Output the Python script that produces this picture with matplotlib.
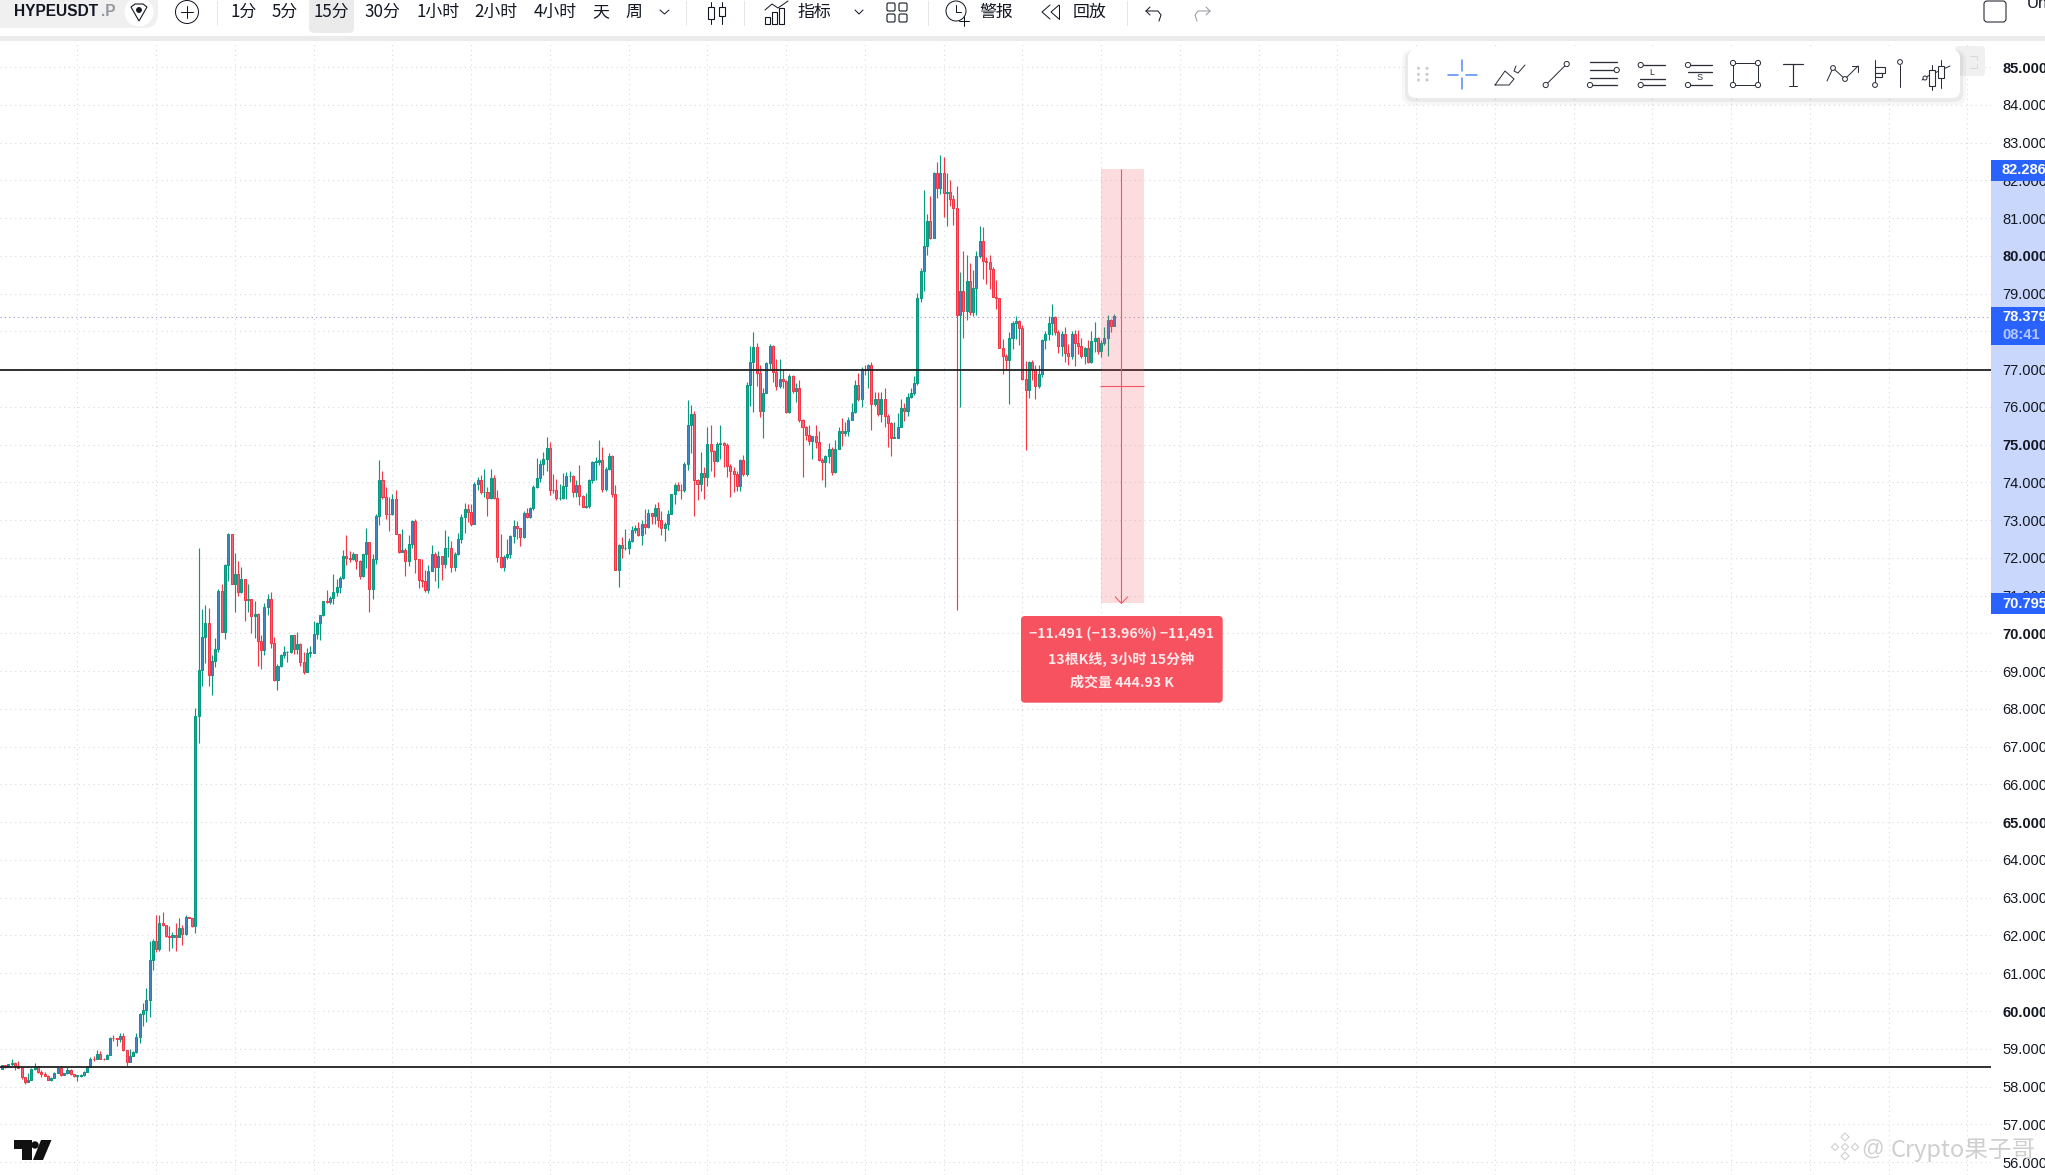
import matplotlib
matplotlib.use("Agg")
import matplotlib.pyplot as plt
from matplotlib.patches import Rectangle, FancyBboxPatch, Circle, Polygon

CJK = ['Noto Sans CJK SC', 'DejaVu Sans']
plt.rcParams['font.family'] = CJK

# ---------- data ----------
first_open = 58.47
closes = [
58.57,58.52,58.59,58.63,58.54,58.50,58.24,58.13,58.17,58.47,
58.54,58.38,58.34,58.28,58.17,58.22,58.35,58.50,58.30,58.35,
58.45,58.32,58.28,58.29,58.31,58.39,58.53,58.74,58.72,58.87,
58.74,58.72,58.84,59.29,59.28,59.25,59.33,58.96,58.65,58.81,
58.92,59.32,59.91,60.03,60.30,61.34,61.86,61.63,62.33,62.27,
61.98,61.97,62.01,61.96,62.20,62.03,62.49,62.46,62.24,67.82,
69.04,69.90,70.27,68.91,69.27,69.58,71.11,70.05,71.81,72.62,
71.32,71.57,71.10,71.43,70.88,70.90,70.45,70.52,69.79,69.55,
70.69,70.90,69.74,68.76,69.13,69.42,69.50,69.51,69.95,69.58,
69.71,69.24,68.99,69.48,69.49,69.98,70.27,70.48,70.85,70.82,
70.94,71.09,71.22,71.46,72.06,72.00,71.96,72.09,71.93,71.53,
72.09,72.41,71.17,71.98,73.12,74.07,73.61,73.16,73.15,73.57,
72.63,72.16,72.22,71.93,72.38,72.99,71.96,71.41,71.39,71.15,
71.66,72.09,71.76,72.04,71.85,72.25,72.27,71.76,72.09,72.49,
73.08,73.30,73.21,72.91,73.96,74.07,73.74,73.74,73.59,74.12,
73.58,72.03,71.76,72.03,72.09,72.58,72.85,72.78,72.56,73.20,
73.08,73.33,73.89,74.12,74.49,74.62,74.91,73.80,73.79,73.58,
73.58,73.91,74.16,74.18,73.74,73.94,73.65,73.36,73.38,74.07,
74.54,74.54,74.60,73.83,74.36,74.70,73.70,71.69,72.35,72.25,
72.27,72.46,72.75,72.80,72.61,72.91,72.82,73.20,73.11,73.33,
73.01,72.80,72.91,73.17,73.68,73.94,73.80,73.79,74.49,75.52,
75.82,74.07,73.96,74.25,74.14,75.02,74.83,74.57,75.02,75.04,
75.00,74.44,74.30,74.23,73.91,74.58,74.23,76.58,77.19,77.59,
76.90,75.89,76.37,77.16,77.62,76.93,76.55,76.74,76.68,75.87,
76.83,76.42,76.50,75.65,75.47,75.25,75.10,75.23,75.07,74.59,
74.54,74.71,74.89,74.28,74.89,75.37,75.31,75.37,75.66,75.87,
76.58,76.21,76.99,76.98,77.11,76.07,76.20,75.81,76.21,75.76,
75.57,75.18,75.18,75.47,75.98,75.89,76.26,76.38,76.63,78.87,
79.59,80.25,80.91,80.47,82.20,81.79,82.20,81.67,81.68,81.51,
81.27,78.42,79.06,78.55,79.32,78.52,79.14,79.99,80.40,79.85,
79.84,79.65,78.92,78.87,77.57,77.34,77.23,77.82,78.21,78.27,
78.10,76.73,76.44,77.19,77.01,76.55,76.87,77.77,77.92,78.21,
78.37,77.98,77.60,77.92,77.42,77.36,77.92,77.69,77.60,77.34,
77.55,77.20,77.74,77.82,77.49,77.70,77.82,78.29,78.14,78.40,
]
highs = [
58.58,58.58,58.60,58.72,58.64,58.68,58.50,58.26,58.37,58.48,
58.63,58.54,58.45,58.38,58.31,58.24,58.39,58.51,58.54,58.36,
58.51,58.46,58.33,58.30,58.33,58.40,58.54,58.79,58.81,58.98,
58.95,58.76,58.86,59.30,59.37,59.29,59.42,59.42,58.98,59.00,
58.93,59.42,59.95,60.21,60.62,61.85,61.90,62.53,62.53,62.61,
62.28,62.26,62.10,62.33,62.46,62.27,62.53,62.50,62.47,68.03,
72.27,70.64,70.74,70.66,69.43,69.87,71.17,71.31,71.85,72.67,
72.64,72.12,71.91,71.76,71.45,71.31,70.92,70.86,70.53,69.96,
70.81,71.04,71.10,69.90,69.20,69.45,69.67,69.54,69.96,69.96,
70.04,69.74,69.50,69.62,69.67,70.33,70.31,70.50,70.87,71.15,
71.00,71.57,71.45,71.53,72.20,72.60,72.18,72.15,72.10,71.94,
72.10,72.78,72.42,72.10,73.17,74.58,74.29,73.89,73.61,73.68,
73.81,72.64,72.76,72.25,72.60,73.00,73.02,71.97,71.96,71.68,
71.81,72.33,72.15,72.18,72.06,72.73,72.57,72.45,72.15,72.65,
73.17,73.46,73.44,73.44,74.02,74.13,74.20,74.36,73.89,74.36,
74.20,73.79,72.63,72.08,72.51,72.60,73.01,72.97,72.80,73.23,
73.33,73.34,73.94,74.64,74.60,74.80,75.21,75.07,74.23,74.09,
73.95,74.25,74.27,74.31,74.19,74.07,74.47,73.66,73.73,74.08,
74.56,74.68,75.13,74.95,74.40,74.78,74.73,73.92,72.38,72.56,
72.76,72.52,72.84,72.86,72.95,73.00,73.29,73.29,73.20,73.44,
73.47,73.24,72.95,73.26,73.69,73.98,74.02,73.95,74.54,76.17,
76.06,75.88,74.10,74.80,74.42,75.47,75.52,74.85,75.08,75.52,
75.08,75.03,74.48,74.42,74.30,74.61,74.72,76.67,77.60,77.97,
77.69,77.12,76.49,77.18,77.67,77.65,77.27,77.27,77.00,76.72,
76.86,76.85,76.63,76.72,75.67,75.49,75.51,75.24,75.51,75.35,
74.65,74.72,75.05,74.94,75.11,75.47,75.71,75.60,75.74,76.11,
76.71,76.90,77.05,77.12,77.14,77.18,76.40,76.40,76.40,76.50,
75.80,75.60,75.60,75.83,76.22,76.11,76.38,76.50,76.83,79.01,
79.69,81.73,81.10,81.58,82.23,82.49,82.68,82.62,82.20,82.02,
81.60,81.84,79.56,80.12,80.02,79.81,79.62,80.13,80.78,80.76,
79.97,80.02,79.70,79.36,78.88,77.80,77.40,77.99,78.28,78.40,
78.30,78.17,77.21,77.22,77.25,77.10,77.10,77.80,78.02,78.40,
78.72,78.40,78.03,78.00,78.11,77.67,78.02,78.04,78.04,77.83,
77.58,77.76,78.02,78.24,77.85,77.76,78.11,78.43,78.32,78.46,
]
lows = [
58.46,58.49,58.52,58.54,58.44,58.49,58.21,58.06,58.12,58.17,
58.45,58.37,58.25,58.27,58.16,58.14,58.22,58.35,58.29,58.30,
58.34,58.31,58.24,58.14,58.25,58.27,58.39,58.53,58.67,58.72,
58.73,58.70,58.72,58.83,59.20,59.07,59.18,58.95,58.54,58.64,
58.80,58.90,59.16,59.61,59.70,59.83,61.08,61.55,61.59,62.26,
61.97,61.59,61.67,61.60,61.95,61.76,62.02,62.45,62.23,62.06,
67.10,68.62,69.21,68.62,68.36,69.10,69.50,70.03,69.86,71.39,
71.30,70.57,70.99,71.08,70.33,70.58,70.00,69.89,69.14,69.06,
69.43,70.50,69.62,68.74,68.49,69.12,69.35,69.25,69.47,69.45,
69.45,69.13,68.93,68.98,69.38,69.47,69.85,69.83,70.47,70.80,
70.77,70.78,70.99,71.06,71.44,71.80,71.90,71.94,71.70,71.44,
71.49,71.73,70.57,70.91,71.85,72.87,73.55,73.02,72.71,73.13,
72.62,72.14,72.15,71.52,71.78,72.25,71.59,71.20,71.24,71.10,
71.08,71.65,71.40,71.19,71.41,71.72,72.03,71.63,71.66,72.08,
72.40,72.66,72.95,72.85,72.90,73.80,73.70,73.60,73.11,73.55,
73.57,71.90,71.72,71.66,71.97,72.00,72.40,72.49,72.31,72.54,
73.05,73.05,73.27,73.85,74.00,74.20,74.30,73.66,73.72,73.53,
73.53,73.55,73.55,74.00,73.62,73.62,73.40,73.34,73.32,73.32,
73.98,74.07,74.46,73.74,73.76,74.33,73.60,71.68,71.24,72.00,
72.20,72.10,72.42,72.65,72.58,72.34,72.63,72.80,72.91,72.91,
72.82,72.60,72.45,72.73,73.15,73.42,73.76,73.55,73.75,74.34,
74.77,73.11,73.54,73.76,73.56,73.90,74.30,74.15,74.55,74.62,
74.40,74.15,73.62,73.75,73.78,73.78,74.18,74.17,76.02,75.86,
76.55,75.73,75.17,76.36,77.00,76.65,76.44,76.50,76.49,75.85,
75.85,76.38,76.13,75.60,74.15,75.11,75.00,74.61,74.90,74.56,
74.06,73.88,74.51,74.20,74.25,74.88,74.96,75.24,75.22,75.85,
75.85,76.15,75.99,76.84,76.50,75.38,76.02,75.75,75.60,75.47,
74.93,74.70,75.17,75.17,75.46,75.62,75.76,76.24,76.32,76.58,
78.77,79.08,80.03,80.44,80.47,81.52,81.65,81.03,80.79,81.32,
80.81,70.62,75.99,77.83,78.30,78.44,78.40,78.43,79.95,79.38,
79.25,79.12,78.90,78.60,77.56,76.88,76.98,76.07,77.54,77.80,
77.63,76.70,74.85,76.24,76.70,76.22,76.50,76.80,77.54,77.76,
77.90,77.90,77.43,77.36,77.20,77.10,77.26,77.07,77.40,77.30,
77.14,77.15,77.15,77.45,77.41,77.32,77.65,77.34,77.99,78.13,
]
levels = [76.98, 58.53]
last_price = 78.379
measure_top = 82.286
measure_bottom = 70.795
measure_start, measure_bars = 335, 13
price_ticks = list(range(56, 86))
toolbar_labels = ['1分','5分','15分','30分','1小时','2小时','4小时','天','周']
callout_lines = ['−11.491 (−13.96%) −11,491', '13根K线, 3小时 15分钟', '成交量 444.93 K']

assert len(closes) == len(highs) == len(lows)
opens = [first_open] + closes[:-1]
idx = list(range(len(closes)))

UP, DOWN = '#089981', '#f23645'
UPF, DOWNF = '#3f86c4', '#f8637a'
px = 0.72
W, H = 2045, 1175
fig = plt.figure(figsize=(W/100, H/100), dpi=100, facecolor='white')

# axis-strip highlight between the two measured prices
fig.add_artist(Rectangle((1991/W, 1-604/H), 54/W, 434/H, transform=fig.transFigure,
                         facecolor='#c8d7fb', edgecolor='none', zorder=-1))

ax = fig.add_axes([0, 0, 1991/W, 1-41/H])
ax.set_xlim(-0.567, 606.2)
ax.set_ylim(55.657, 85.689)
for s in ax.spines.values():
    s.set_visible(False)
ax.yaxis.tick_right()
ax.set_yticks(price_ticks)
ax.set_yticklabels([f'{p}.000' for p in price_ticks], family='Liberation Sans', fontsize=10.5, color='#131722')
for lab, p in zip(ax.get_yticklabels(), price_ticks):
    if p % 5 == 0:
        lab.set_fontweight('bold')
ax.set_xticks(list(range(23, 600, 24)))
ax.tick_params(axis='x', length=0, labelbottom=False)
ax.tick_params(axis='y', length=0, pad=8)
ax.grid(True, color='#d9dadc', lw=0.8, ls=(0, (1, 3.4)), zorder=0)
ax.set_axisbelow(True)

for i in idx:
    o, c = opens[i], closes[i]
    up = c >= o
    col = UP if up else DOWN
    ax.vlines(i, min(lows[i], o, c), max(highs[i], o, c), color=col, lw=1.15*px, zorder=2)
    ax.bar(i, max(abs(c-o), 0.015), bottom=min(o, c), width=0.62,
           facecolor=UPF if up else DOWNF, edgecolor=col, lw=1.0*px, zorder=3)

for lv in levels:
    ax.axhline(lv, color='#1f1f1f', lw=1.8*px, zorder=4)
ax.axhline(last_price, color='#8f9bd0', lw=0.8, ls=(0, (1, 3)), zorder=1)

mid = measure_start + measure_bars/2 - 0.3
ax.add_patch(Rectangle((measure_start, measure_bottom), measure_bars, measure_top-measure_bottom,
                       facecolor='#f7525f', alpha=0.2, edgecolor='none', zorder=5))
ax.vlines(mid, measure_bottom, measure_top, color='#f7525f', lw=1.1*px, zorder=6)
midp = (measure_top + measure_bottom)/2
ax.hlines(midp, measure_start-0.3, measure_start+measure_bars, color='#f7525f', lw=1.1*px, zorder=6)
ax.plot([mid-1.9, mid, mid+1.9], [measure_bottom+0.17, measure_bottom, measure_bottom+0.17],
        color='#f7525f', lw=1.0*px, zorder=6)

# ---------- chrome drawn in pixel coordinates ----------
a = fig.add_axes([0, 0, 1, 1], zorder=5)
a.set_xlim(0, W); a.set_ylim(H, 0); a.axis('off'); a.patch.set_alpha(0)

def rect(x0, y0, x1, y1, fc, ec='none', lw=0, z=1):
    a.add_patch(Rectangle((x0, y0), x1-x0, y1-y0, facecolor=fc, edgecolor=ec, lw=lw, zorder=z))
def rrect(x0, y0, x1, y1, r, fc, ec='none', lw=0, z=1, alpha=None):
    a.add_patch(FancyBboxPatch((x0+r, y0+r), x1-x0-2*r, y1-y0-2*r, boxstyle=f'round,pad={r}',
                               facecolor=fc, edgecolor=ec, lw=lw, zorder=z, alpha=alpha))
def line(xs, ys, c='#2a2e39', lw=1.0, z=6):
    a.plot(xs, ys, color=c, lw=lw*px, zorder=z, solid_capstyle='round')
def circ(x, y, r, fc='white', ec='#2a2e39', lw=1.0, z=7):
    a.add_patch(Circle((x, y), r, facecolor=fc, edgecolor=ec, lw=lw*px, zorder=z))
def text(x, y, s, size=12.2, c='#131722', ha='center', va='center', z=8, **kw):
    kw.setdefault('family', CJK)
    a.text(x, y, s, fontsize=size, color=c, ha=ha, va=va, zorder=z, **kw)

# top bar
rect(0, 0, W, 36, 'white')
rect(0, 36, W, 41, '#ebebeb')
rrect(-20, -20, 158, 28, 14, '#f0f0f0')
text(14, 12, 'HYPEUSDT', size=11.2, ha='left', family='Liberation Sans', fontweight='bold')
text(101, 12, '.P', size=11.2, ha='left', c='#9598a1', family='Liberation Sans', fontweight='bold')
circ(139, 12, 14, fc='white', ec='white')
a.add_patch(Polygon([(131, 7), (135, 4), (143, 4), (147, 7), (139, 21)], closed=True, fc='white', ec='#131722', lw=1.1*px, zorder=8))
circ(139, 10, 2.4, fc='#131722', ec='#131722', z=9)
circ(187, 12, 11.5, ec='#131722')
line([181, 193], [12, 12], '#131722', z=8); line([187, 187], [6, 18], '#131722', z=8)
rrect(309, -10, 354, 33, 5, '#ebebeb')
tb_x = [243.6, 285, 331.6, 382.6, 438, 496, 555, 601, 634]
for x, s in zip(tb_x, toolbar_labels):
    text(x, 12, s)
for x in (217, 686, 744, 928, 1127):
    line([x, x], [1, 25], '#e6e6e8', 1.0)
line([660, 664.5, 669], [10, 14, 10], '#131722')
line([855, 859, 863], [10, 14, 10], '#131722')
# candle icon
line([711, 711], [2, 24], '#131722'); rect(708, 7, 714, 19, 'white', '#131722', 0.8, 7)
line([722, 722], [2, 24], '#131722'); rect(719, 7, 725, 16, 'white', '#131722', 0.8, 7)
# indicator icon
for x0, y0 in ((765, 17), (772, 12), (779, 8)):
    rect(x0, y0, x0+5, 24, 'white', '#131722', 0.8, 7)
line([765, 772, 778, 788], [10, 4, 8, 1], '#131722')
text(814, 12, '指标')
for x0 in (887, 899):
    for y0 in (3, 14):
        rrect(x0, y0, x0+8, y0+8, 1.5, 'white', '#131722', 0.8, 7)
circ(956, 11, 10, ec='#131722')
line([956, 956, 961], [5, 12, 12], '#131722', z=8)
line([964, 964], [16, 26], '#131722', z=8); line([959, 969], [21, 21], '#131722', z=8)
text(996, 12, '警报')
line([1050, 1042, 1050], [5, 12, 19], '#131722'); line([1059, 1051, 1059], [5, 12, 19], '#131722')
line([1059, 1059], [5, 19], '#131722')
text(1090, 12, '回放')
line([1150, 1146, 1150], [7, 11, 15], '#131722')
a.plot([1146, 1158, 1161, 1159], [11, 11, 15, 21], color='#131722', lw=px, zorder=6)
line([1206, 1210, 1206], [7, 11, 15], '#9598a1')
a.plot([1210, 1198, 1195, 1197], [11, 11, 15, 21], color='#9598a1', lw=px, zorder=6)
rrect(1984, 1, 2006, 22, 3, 'white', '#131722', 1.0*px, 7)
text(2027, 3, 'Un', size=12, ha='left', family='Liberation Sans')

# drawing toolbar
rrect(1402, 50, 1966, 105, 10, '#000000', z=2, alpha=0.03)
rrect(1405, 51, 1963, 102, 9, '#000000', z=2, alpha=0.05)
rrect(1408, 50, 1960, 98, 8, 'white', z=3)
rrect(1955, 46, 1985, 76, 4, '#f0f0f0', z=1)
line([1970, 1977, 1977], [56, 56, 60], '#d8d8d8', 1.0, z=2)
line([1970, 1977, 1977], [68, 68, 64], '#d8d8d8', 1.0, z=2)
for x in (1418.5, 1427):
    for y in (68.3, 74.3, 80):
        circ(x, y, 1.3, fc='#c9cbcf', ec='#c9cbcf', lw=0.4)
BL = '#5b8df6'
line([1447.7, 1458.3], [74.7, 74.7], BL, 1.6); line([1465.7, 1476.7], [74.7, 74.7], BL, 1.6)
line([1462, 1462], [60.3, 71], BL, 1.6); line([1462, 1462], [78.3, 89], BL, 1.6)
line([1495, 1509, 1514, 1505, 1495], [85, 85, 79, 71, 85])
line([1516, 1514, 1518, 1525], [66, 71, 73, 65])
line([1545.7, 1566.7], [85, 64]); circ(1545.7, 85, 2.6); circ(1566.7, 64, 2.6)
for y, x1 in ((62.3, 1617), (70, 1617), (77.7, 1617), (85, 1617)):
    line([1590, x1], [y, y], lw=1.3)
circ(1616.7, 70, 2.6); circ(1590, 85, 2.6)
for y in (65, 79, 85):
    line([1640, 1665], [y, y], lw=1.3)
circ(1640.7, 65, 2.6); circ(1640.7, 85, 2.6)
text(1652, 72.5, 'L', size=6.5, family='Liberation Sans', c='#2a2e39')
for y in (65, 72, 85):
    line([1688, 1712], [y, y], lw=1.3)
circ(1688, 65, 2.6); circ(1688, 85, 2.6)
text(1700, 78, 'S', size=6.5, family='Liberation Sans', c='#2a2e39')
line([1733, 1758, 1758, 1733, 1733], [63, 63, 85, 85, 63])
for x, y in ((1733, 63), (1758, 63), (1758, 85), (1733, 85)):
    circ(x, y, 2.6)
line([1783, 1803], [64, 64], lw=1.2); line([1793, 1793], [64, 86], lw=1.2); line([1789, 1797], [86, 86])
line([1827, 1833, 1845, 1858], [81, 68, 79, 66]); circ(1833, 68, 2.4); circ(1845, 79, 2.4)
line([1852, 1858, 1858], [66, 66, 72])
line([1875, 1875], [60, 83]); circ(1875, 85, 2.4)
rect(1875, 67, 1885, 73, 'white', '#2a2e39', 0.8, 7); rect(1875, 73, 1882, 77, 'white', '#2a2e39', 0.8, 7)
line([1900, 1900], [65, 87]); circ(1900, 62, 2.4)
line([1932, 1932], [65, 90]); rect(1929, 70, 1935, 86, 'white', '#2a2e39', 0.8, 7)
line([1941, 1941], [60, 88]); rect(1938, 66, 1944, 78, 'white', '#2a2e39', 0.8, 7)
line([1922, 1928, 1950], [80, 76, 66])
circ(1925, 78, 2)

# price tags
TAG = '#2962ff'
tagfont = dict(size=10.5, ha='left', family='Liberation Sans', fontweight='bold')
rect(1991, 160, W, 181, TAG, z=3)
text(2002, 170.5, '82.286', c='white', **tagfont)
rect(1991, 307, W, 345, TAG, z=3)
text(2002, 317, '78.379', c='white', **tagfont)
text(2002, 335, '08:41', c='#b4c8ff', **tagfont)
rect(1991, 593, W, 614, TAG, z=3)
text(2002, 604, '70.795', c='white', **tagfont)

# measure callout
rrect(1021, 616, 1222.7, 702.7, 4, '#f7525f', z=4)
for y, s in zip((634, 659, 683), callout_lines):
    text(1121.5, y, s, size=10.1, c='#ffe9ea', fontweight='bold')

# logo
LOGO = '#111111'
a.add_patch(Polygon([(14, 1140), (32, 1140), (32, 1160), (22, 1160), (22, 1149), (14, 1149)], closed=True, fc=LOGO, ec='none', zorder=7))
a.add_patch(Circle((35, 1145), 3.7, fc=LOGO, ec='none', zorder=7))
a.add_patch(Polygon([(41, 1140), (51.5, 1140), (43, 1160), (33, 1160)], closed=True, fc=LOGO, ec='none', zorder=7))

# watermark
WM = '#cfcfcf'
for (cx, cy, r) in ((1845, 1137, 4), (1845, 1156, 4), (1835, 1147, 3.6), (1855, 1147, 3.6), (1845, 1147, 3.6)):
    a.add_patch(Polygon([(cx, cy-r), (cx+r, cy), (cx, cy+r), (cx-r, cy)], closed=True, fc='white', ec=WM, lw=0.8, zorder=8))
text(1873, 1149, '@', size=16, c=WM, family='Liberation Sans', z=9)
text(1891, 1150, 'Crypto果子哥', size=17, c=WM, ha='left', z=9)

fig.savefig('out.png', dpi=100)
